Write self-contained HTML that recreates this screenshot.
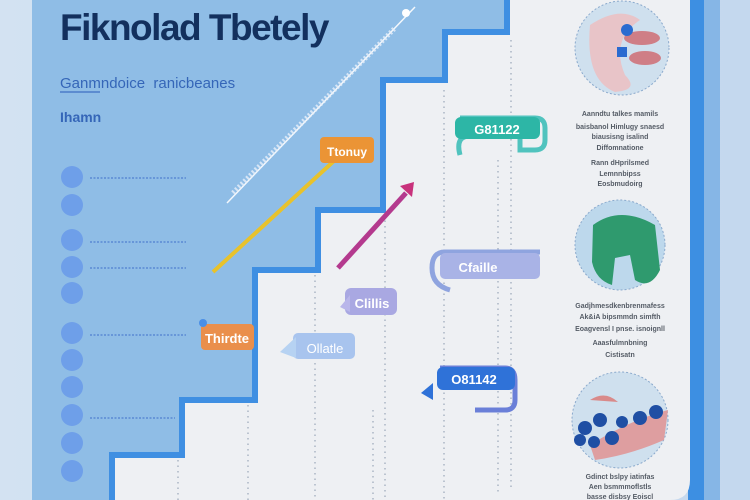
<!DOCTYPE html>
<html><head><meta charset="utf-8"><style>
html,body{margin:0;padding:0;width:750px;height:500px;overflow:hidden;background:#c9dcef}
svg{display:block}
text{font-family:"Liberation Sans",sans-serif}
</style></head><body>
<svg width="750" height="500" viewBox="0 0 750 500">
<defs>
<linearGradient id="bg" x1="0" y1="0" x2="1" y2="0"><stop offset="0" stop-color="#d3e2f2"/><stop offset="1" stop-color="#c4d8ee"/></linearGradient>
</defs>
<rect width="750" height="500" fill="url(#bg)"/>
<!-- right bars -->
<rect x="700" y="0" width="20" height="500" fill="#86b6e6"/>
<rect x="688" y="0" width="16" height="500" fill="#3d8fe2"/>
<!-- panel -->
<path d="M32 0 H690 V480 Q690 500 670 500 H32 Z" fill="#eef0f3"/>
<!-- blue staircase fill -->
<path d="M32 0 H507 V32 H445 V80 H383 V210 H318 V270 H255 V400 H182 V455 H112 V500 H32 Z" fill="#8fbde6"/>
<path d="M507 0 V32 H445 V80 H383 V210 H318 V270 H255 V400 H182 V455 H112 V500" fill="none" stroke="#3f8fe2" stroke-width="6"/>
<!-- dotted verticals -->
<g stroke="#9aa6b8" stroke-width="1.2" stroke-dasharray="1.5 4">
<line x1="511" y1="40" x2="511" y2="490"/><line x1="444" y1="90" x2="444" y2="500"/>
<line x1="498" y1="160" x2="498" y2="495"/><line x1="385" y1="215" x2="385" y2="500"/>
<line x1="315" y1="275" x2="315" y2="500"/><line x1="248" y1="405" x2="248" y2="500"/>
<line x1="178" y1="460" x2="178" y2="500"/><line x1="373" y1="410" x2="373" y2="500"/>
</g>
<!-- title -->
<text x="60" y="40" font-size="37" font-weight="bold" fill="#13305e" letter-spacing="-1.5">Fiknolad Tbetely</text>
<text x="60" y="88" font-size="15" fill="#3566b8">Ganmndoice&#160;&#160;ranicbeanes</text>
<line x1="60" y1="92" x2="100" y2="92" stroke="#4b7cc8" stroke-width="1.5"/>
<text x="60" y="122" font-size="14" fill="#3566b8" font-weight="bold">Ihamn</text>
<!-- rows -->
<g fill="#6e9fe9">
<circle cx="72" cy="177" r="11"/><circle cx="72" cy="205" r="11"/><circle cx="72" cy="240" r="11"/><circle cx="72" cy="267" r="11"/><circle cx="72" cy="293" r="11"/><circle cx="72" cy="333" r="11"/><circle cx="72" cy="360" r="11"/><circle cx="72" cy="387" r="11"/><circle cx="72" cy="415" r="11"/><circle cx="72" cy="443" r="11"/><circle cx="72" cy="471" r="11"/>
</g>
<g stroke="#4f7fcf" stroke-width="1.3" stroke-dasharray="2 1.5">
<line x1="90" y1="178" x2="186" y2="178"/><line x1="90" y1="242" x2="186" y2="242"/><line x1="90" y1="268" x2="186" y2="268"/><line x1="90" y1="335" x2="186" y2="335"/><line x1="90" y1="418" x2="175" y2="418"/>
</g>
<!-- diagonal white -->
<line x1="227" y1="203" x2="415" y2="7" stroke="#f4f8fc" stroke-width="1.5"/>
<line x1="233" y1="193" x2="395" y2="28" stroke="#e8f0fa" stroke-width="5" stroke-dasharray="2 2" opacity="0.8"/>
<circle cx="406" cy="13" r="4" fill="#fff"/>
<!-- yellow line -->
<line x1="213" y1="272" x2="335" y2="160" stroke="#e8c22c" stroke-width="4"/>
<rect x="320" y="137" width="54" height="26" rx="4" fill="#eb9435"/>
<text x="347" y="156" font-size="12" fill="#fff" text-anchor="middle" font-weight="bold">Ttonuy</text>
<!-- magenta arrow -->
<line x1="338" y1="268" x2="406" y2="193" stroke="#b43a8e" stroke-width="5"/>
<path d="M400 186 L414 182 L412 197 Z" fill="#c8327c"/>
<!-- teal label -->
<path d="M460 118 H535 Q545 118 545 128 V140 Q545 150 535 150 H520 V136 H470 Q455 136 460 155" fill="none" stroke="#28b8b0" stroke-width="5" opacity="0.8"/>
<rect x="455" y="117" width="85" height="22" rx="6" fill="#2db6a6"/>
<text x="497" y="134" font-size="13" fill="#fff" text-anchor="middle" font-weight="bold">G81122</text>
<!-- purple label -->
<path d="M540 252 H445 Q432 252 432 268 Q432 285 450 290" fill="none" stroke="#8fa4df" stroke-width="5"/>
<rect x="440" y="253" width="100" height="26" rx="5" fill="#a9b3e6"/>
<text x="478" y="272" font-size="13" fill="#fff" text-anchor="middle" font-weight="bold">Cfaille</text>
<!-- Clillis -->
<rect x="345" y="288" width="52" height="27" rx="6" fill="#a9a8e2"/>
<path d="M340 307 L350 295 V312 Z" fill="#b9b6ea"/>
<text x="372" y="308" font-size="13" fill="#fff" text-anchor="middle" font-weight="bold">Clillis</text>
<!-- Ollatle -->
<rect x="293" y="333" width="62" height="26" rx="5" fill="#a8c4ee"/>
<path d="M280 352 L296 337 V358 Z" fill="#b6d2f2"/>
<text x="325" y="353" font-size="13" fill="#fff" text-anchor="middle">Ollatle</text>
<!-- Thirdte -->
<rect x="201" y="324" width="53" height="26" rx="4" fill="#ea8f4c"/>
<circle cx="203" cy="323" r="4" fill="#4a8fe6"/>
<text x="227" y="343" font-size="13" fill="#fff" text-anchor="middle" font-weight="bold">Thirdte</text>
<!-- blue label -->
<path d="M440 368 H505 Q515 368 515 380 V400 Q515 410 505 410 H475" fill="none" stroke="#6a7fd8" stroke-width="5"/>
<rect x="437" y="367" width="78" height="23" rx="6" fill="#2f72d8"/>
<path d="M421 393 L433 383 V400 Z" fill="#2f72d8"/>
<text x="474" y="384" font-size="13" fill="#fff" text-anchor="middle" font-weight="bold">O81142</text>
<!-- right circles -->
<circle cx="622" cy="48" r="47" fill="#cfe0ee" stroke="#8aa9cc" stroke-dasharray="2 2"/>
<path d="M590 25 Q620 5 640 20 Q610 40 625 75 Q640 90 615 92 Q585 80 590 25 Z" fill="#e8c4c8"/>
<ellipse cx="642" cy="38" rx="18" ry="7" fill="#cf7e86"/><ellipse cx="645" cy="58" rx="16" ry="7" fill="#cf7e86"/>
<circle cx="627" cy="30" r="6" fill="#2a6bd0"/><rect x="617" y="47" width="10" height="10" fill="#2a6bd0"/>
<circle cx="620" cy="245" r="45" fill="#bdd8ec" stroke="#8aa9cc" stroke-dasharray="2 2"/>
<path d="M593 225 Q620 205 655 225 L660 270 Q650 290 635 280 L630 255 L615 258 L612 285 Q596 280 592 262 Z" fill="#2f9a6e"/>
<circle cx="620" cy="420" r="48" fill="#cfe0ee" stroke="#8aa9cc" stroke-dasharray="2 2"/>
<path d="M590 445 Q630 420 668 410 L664 440 Q630 455 595 460 Z" fill="#de9ea0"/>
<path d="M590 400 Q605 390 618 402 Z" fill="#d98a8a"/>
<g fill="#1f4fa4"><circle cx="585" cy="428" r="7"/><circle cx="600" cy="420" r="7"/><circle cx="612" cy="438" r="7"/><circle cx="580" cy="440" r="6"/><circle cx="622" cy="422" r="6"/><circle cx="640" cy="418" r="7"/><circle cx="656" cy="412" r="7"/><circle cx="594" cy="442" r="6"/></g>
<!-- right text blocks -->
<g font-size="7" fill="#555c66" text-anchor="middle" font-weight="bold">
<text x="620" y="116">Aanndtu talkes mamils</text><text x="620" y="129">baisbanol Himlugy snaesd</text><text x="620" y="139">biausisng  isalind</text><text x="620" y="150">Diffomnatione</text>
<text x="620" y="165">Rann dHprilsmed</text><text x="620" y="176">Lemnnbipss</text><text x="620" y="186">Eosbmudoirg</text>
<text x="620" y="308">Gadjhmesdkenbrenmafess</text><text x="620" y="319">Ak&amp;iA bipsmmdn simfth</text><text x="620" y="331">Eoagvensl  I pnse. isnoignll</text><text x="620" y="345">Aaasfulmnbning</text><text x="620" y="357">Cistisatn</text>
<text x="620" y="479">Gdinct bslpy iatinfas</text><text x="620" y="489">Aen bsmmmoflstls</text><text x="620" y="499">basse disbsy  Eoiscl</text>
</g>
</svg>
</body></html>
